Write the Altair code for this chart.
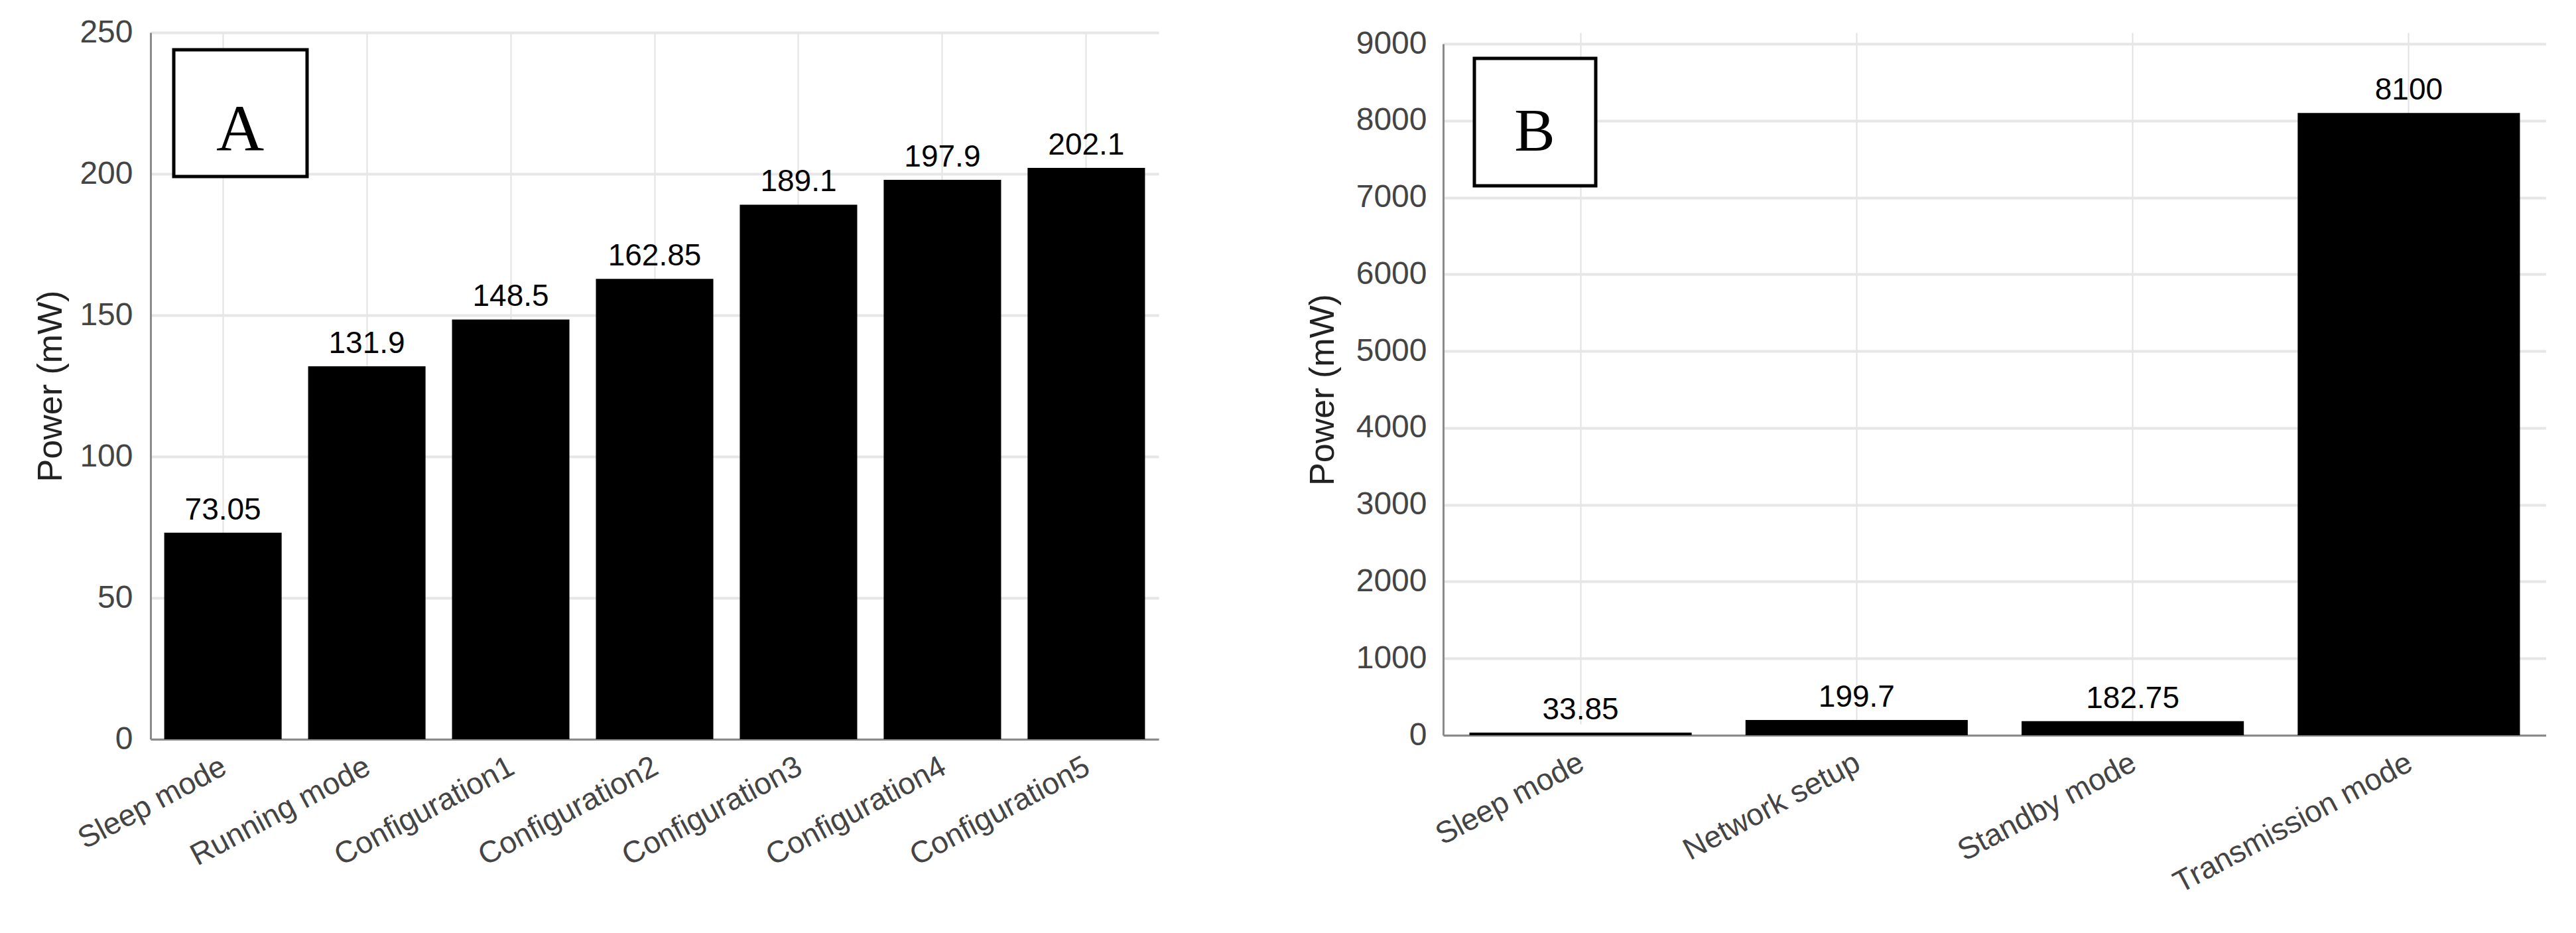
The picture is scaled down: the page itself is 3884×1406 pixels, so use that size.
import altair as alt
import pandas as pd

# ---- data ----
cats_a = ["Sleep mode", "Running mode", "Configuration1", "Configuration2",
          "Configuration3", "Configuration4", "Configuration5"]
vals_a = [73.05, 131.9, 148.5, 162.85, 189.1, 197.9, 202.1]
labs_a = ["73.05", "131.9", "148.5", "162.85", "189.1", "197.9", "202.1"]
ticks_a = [0, 50, 100, 150, 200, 250]

cats_b = ["Sleep mode", "Network setup", "Standby mode", "Transmission mode"]
vals_b = [33.85, 199.7, 182.75, 8100]
labs_b = ["33.85", "199.7", "182.75", "8100"]
ticks_b = [0, 1000, 2000, 3000, 4000, 5000, 6000, 7000, 8000, 9000]

SANS = "Liberation Sans"
SERIF = "Liberation Serif"


def panel(cats, vals, labs, ticks, ymax, w, h, top, pi, po, ylabpad, ytitlepad,
          box, letter, letter_size, letter_x, letter_y):
    df = pd.DataFrame({"cat": cats, "val": vals, "lab": labs})
    xenc = alt.X(
        "cat:N", sort=cats,
        scale=alt.Scale(paddingInner=pi, paddingOuter=po),
        axis=alt.Axis(
            title=None, labelAngle=-28, labelAlign="right", labelBaseline="middle",
            labelPadding=38, labelOffset=2, ticks=False, grid=True,
            gridColor="#e2e2e2", gridWidth=2, domainColor="#8a8a8a", domainWidth=3,
            labelFont=SANS, labelFontSize=46, labelColor="#444444", labelLimit=0,
        ),
    )
    yenc = alt.Y(
        "val:Q",
        scale=alt.Scale(domain=[0, ymax], nice=False, zero=True, range=[h, top]),
        axis=alt.Axis(
            title="Power (mW)", values=ticks, format="d", ticks=False,
            labelPadding=ylabpad, titlePadding=ytitlepad,
            gridColor="#e6e6e6", gridWidth=4, domainColor="#8a8a8a", domainWidth=3,
            labelFont=SANS, labelFontSize=48, labelColor="#444444",
            titleFont=SANS, titleFontSize=52, titleFontWeight="normal",
            titleColor="#222222",
        ),
    )
    bars = alt.Chart(df).mark_bar(color="black").encode(x=xenc, y=yenc)
    text = alt.Chart(df).mark_text(
        baseline="bottom", dy=-10, font=SANS, fontSize=46, color="black"
    ).encode(x=alt.X("cat:N", sort=cats), y="val:Q", text="lab:N")

    bdf = pd.DataFrame({"t": [letter]})
    x0, x1, y0, y1 = box
    rect = alt.Chart(bdf).mark_rect(fill="white", stroke="black", strokeWidth=5).encode(
        x=alt.value(x0), x2=alt.value(x1), y=alt.value(y0), y2=alt.value(y1)
    )
    lt = alt.Chart(bdf).mark_text(
        font=SERIF, fontSize=letter_size, align="center", baseline="alphabetic",
        color="black"
    ).encode(x=alt.value(letter_x), y=alt.value(letter_y), text="t:N")
    return alt.layer(bars, text, rect, lt).properties(width=w, height=h)


chart_a = panel(cats_a, vals_a, labs_a, ticks_a, 250, 1520, 1065, 0, 0.184, 0.095,
                27, 16, (35, 236, 26, 217), "A", 100, 135, 178)
chart_b = panel(cats_b, vals_b, labs_b, ticks_b, 9000, 1663, 1059, 17, 0.195, 0.095,
                25, 23, (47, 230, 39, 231), "B", 92, 138, 178)

chart = alt.hconcat(chart_a, chart_b, spacing=221).properties(
    padding={"left": 42, "top": 17, "right": 0, "bottom": 0},
    background="white",
).configure_view(stroke=None)

chart.save("out.html", embed_options={"renderer": "svg", "actions": False})
